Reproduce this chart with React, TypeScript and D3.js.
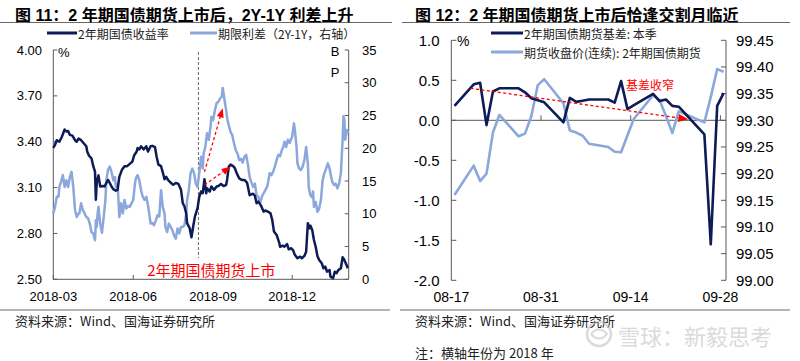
import React from 'react';
import * as d3 from 'd3';

// ---------- Left chart data ----------
const yield2Y: [string, number][] = [
  ['2018-03-01',3.36],['2018-03-03',3.38],['2018-03-05',3.41],['2018-03-08',3.40],['2018-03-11',3.434],['2018-03-14',3.48],
  ['2018-03-16',3.467],['2018-03-18',3.47],['2018-03-20',3.445],['2018-03-23',3.44],['2018-03-26',3.41],['2018-03-28',3.40],
  ['2018-03-30',3.42],['2018-04-02',3.41],['2018-04-05',3.39],['2018-04-08',3.37],['2018-04-09',3.336],['2018-04-11',3.31],
  ['2018-04-14',3.29],['2018-04-16',3.24],['2018-04-18',3.205],['2018-04-19',3.02],['2018-04-20',3.13],['2018-04-22',3.18],
  ['2018-04-24',3.107],['2018-04-27',3.11],['2018-04-29',3.107],['2018-05-01',3.13],['2018-05-03',3.15],['2018-05-05',3.13],
  ['2018-05-07',3.107],['2018-05-09',3.09],['2018-05-12',3.08],['2018-05-14',3.085],['2018-05-16',3.17],['2018-05-19',3.216],
  ['2018-05-22',3.24],['2018-05-25',3.24],['2018-05-28',3.255],['2018-05-31',3.27],['2018-06-02',3.31],['2018-06-05',3.336],
  ['2018-06-06',3.358],['2018-06-08',3.35],['2018-06-10',3.37],['2018-06-13',3.35],['2018-06-16',3.37],['2018-06-18',3.336],
  ['2018-06-21',3.37],['2018-06-23',3.373],['2018-06-26',3.365],['2018-06-28',3.30],['2018-06-30',3.25],['2018-07-03',3.24],
  ['2018-07-05',3.20],['2018-07-07',3.155],['2018-07-09',3.17],['2018-07-11',3.15],['2018-07-14',3.133],['2018-07-17',3.118],
  ['2018-07-20',3.13],['2018-07-23',3.124],['2018-07-26',3.085],['2018-07-28',2.998],['2018-07-30',2.976],['2018-08-01',2.93],
  ['2018-08-02',2.867],['2018-08-05',2.834],['2018-08-07',2.775],['2018-08-09',2.845],['2018-08-11',2.91],['2018-08-14',2.965],
  ['2018-08-16',3.04],['2018-08-18',3.074],['2018-08-20',3.063],['2018-08-22',3.155],['2018-08-24',3.063],['2018-08-25',3.096],
  ['2018-08-28',3.074],['2018-08-30',3.107],['2018-09-02',3.085],['2018-09-05',3.107],['2018-09-07',3.11],['2018-09-10',3.124],
  ['2018-09-13',3.11],['2018-09-16',3.118],['2018-09-17',3.15],['2018-09-19',3.237],['2018-09-21',3.25],['2018-09-24',3.24],
  ['2018-09-26',3.227],['2018-09-28',3.195],['2018-10-01',3.16],['2018-10-04',3.15],['2018-10-07',3.15],['2018-10-10',3.133],
  ['2018-10-13',3.05],['2018-10-15',3.055],['2018-10-17',3.06],['2018-10-19',3.046],['2018-10-21',2.998],['2018-10-23',3.008],
  ['2018-10-26',2.982],['2018-10-29',2.943],['2018-10-31',2.95],['2018-11-03',2.943],['2018-11-06',2.932],['2018-11-08',2.888],
  ['2018-11-10',2.812],['2018-11-13',2.79],['2018-11-16',2.74],['2018-11-17',2.713],['2018-11-20',2.72],['2018-11-22',2.713],
  ['2018-11-25',2.731],['2018-11-27',2.696],['2018-11-30',2.703],['2018-12-02',2.69],['2018-12-04',2.66],['2018-12-07',2.638],
  ['2018-12-10',2.648],['2018-12-12',2.638],['2018-12-15',2.653],['2018-12-17',2.68],['2018-12-19',2.867],['2018-12-21',2.834],
  ['2018-12-22',2.85],['2018-12-24',2.823],['2018-12-26',2.757],['2018-12-28',2.713],['2018-12-30',2.653],['2019-01-01',2.626],
  ['2019-01-04',2.605],['2019-01-06',2.572],['2019-01-08',2.583],['2019-01-10',2.55],['2019-01-13',2.56],['2019-01-14',2.517],
  ['2019-01-17',2.507],['2019-01-19',2.55],['2019-01-21',2.54],['2019-01-23',2.56],['2019-01-26',2.572],['2019-01-28',2.644],
  ['2019-01-30',2.626],['2019-02-01',2.60],['2019-02-03',2.572],
];

const spread2Y1Y: [string, number][] = [
  ['2018-03-01',10.05],['2018-03-03',11.06],['2018-03-05',12.6],['2018-03-07',12.6],['2018-03-08',14.1],['2018-03-10',14.9],
  ['2018-03-12',15.9],['2018-03-14',14.1],['2018-03-16',15.1],['2018-03-18',14.1],['2018-03-20',15.6],['2018-03-22',16.4],
  ['2018-03-24',14.1],['2018-03-26',10.55],['2018-03-28',9.5],['2018-03-30',10.05],['2018-03-31',10.05],['2018-04-02',11.6],
  ['2018-04-04',10.55],['2018-04-06',10.05],['2018-04-08',9.5],['2018-04-10',9.3],['2018-04-12',8.5],['2018-04-14',7.2],
  ['2018-04-16',7.0],['2018-04-18',5.96],['2018-04-19',9.0],['2018-04-20',8.0],['2018-04-21',10.05],['2018-04-22',11.06],
  ['2018-04-24',8.5],['2018-04-26',7.1],['2018-04-28',9.5],['2018-04-30',12.1],['2018-05-01',15.1],['2018-05-03',16.7],
  ['2018-05-05',17.2],['2018-05-07',16.4],['2018-05-09',15.1],['2018-05-11',15.6],['2018-05-12',14.1],['2018-05-14',14.6],
  ['2018-05-16',9.5],['2018-05-18',11.6],['2018-05-20',10.05],['2018-05-22',12.1],['2018-05-24',10.8],['2018-05-26',11.2],
  ['2018-05-28',11.06],['2018-05-30',11.6],['2018-06-01',12.1],['2018-06-03',14.6],['2018-06-04',15.4],['2018-06-06',15.9],
  ['2018-06-08',15.1],['2018-06-10',13.6],['2018-06-12',12.6],['2018-06-14',12.1],['2018-06-16',12.6],['2018-06-18',11.3],
  ['2018-06-20',9.5],['2018-06-21',8.5],['2018-06-23',8.6],['2018-06-25',8.26],['2018-06-27',9.0],['2018-06-29',9.8],
  ['2018-07-01',9.6],['2018-07-03',13.6],['2018-07-05',11.06],['2018-07-07',10.05],['2018-07-08',8.0],['2018-07-10',7.2],
  ['2018-07-12',8.5],['2018-07-14',8.0],['2018-07-16',7.5],['2018-07-18',6.7],['2018-07-20',6.2],['2018-07-22',7.75],
  ['2018-07-24',7.0],['2018-07-26',8.0],['2018-07-28',8.0],['2018-07-30',8.26],['2018-08-01',10.05],['2018-08-02',12.1],
  ['2018-08-04',13.6],['2018-08-06',16.2],['2018-08-08',16.9],['2018-08-10',16.2],['2018-08-12',14.6],['2018-08-14',14.1],
  ['2018-08-16',16.2],['2018-08-18',18.7],['2018-08-20',16.9],['2018-08-21',19.2],['2018-08-23',20.2],['2018-08-25',22.3],
  ['2018-08-27',21.3],['2018-08-29',23.3],['2018-08-30',24.8],['2018-09-01',24.3],['2018-09-03',25.8],['2018-09-05',26.9],
  ['2018-09-07',27.1],['2018-09-09',27.6],['2018-09-11',27.9],['2018-09-12',29.2],['2018-09-14',27.4],['2018-09-16',25.8],
  ['2018-09-17',24.6],['2018-09-19',23.5],['2018-09-21',22.5],['2018-09-23',22.0],['2018-09-25',20.75],['2018-09-27',19.7],
  ['2018-09-29',19.2],['2018-10-01',18.2],['2018-10-03',18.4],['2018-10-05',17.8],['2018-10-07',18.7],['2018-10-09',19.0],
  ['2018-10-11',17.5],['2018-10-13',15.6],['2018-10-15',14.8],['2018-10-17',14.1],['2018-10-19',14.6],['2018-10-21',12.8],
  ['2018-10-23',12.6],['2018-10-25',11.6],['2018-10-27',12.6],['2018-10-29',13.1],['2018-10-31',13.6],['2018-11-02',14.1],
  ['2018-11-03',14.6],['2018-11-05',16.2],['2018-11-07',15.9],['2018-11-09',16.4],['2018-11-11',17.2],['2018-11-13',18.2],
  ['2018-11-15',19.0],['2018-11-17',18.8],['2018-11-19',19.7],['2018-11-21',20.3],['2018-11-22',21.0],['2018-11-24',20.2],
  ['2018-11-26',21.3],['2018-11-28',20.8],['2018-11-30',21.5],['2018-12-01',21.8],['2018-12-03',23.8],['2018-12-04',22.8],
  ['2018-12-06',20.2],['2018-12-07',17.7],['2018-12-09',16.9],['2018-12-11',16.7],['2018-12-13',17.2],['2018-12-15',18.2],
  ['2018-12-17',20.2],['2018-12-19',17.7],['2018-12-20',14.1],['2018-12-22',12.8],['2018-12-24',12.5],['2018-12-25',13.4],
  ['2018-12-26',11.06],['2018-12-28',11.8],['2018-12-30',10.3],['2019-01-01',10.8],['2019-01-03',12.1],['2019-01-05',15.1],
  ['2019-01-07',16.2],['2019-01-09',16.9],['2019-01-11',17.7],['2019-01-13',16.9],['2019-01-14',16.2],['2019-01-16',14.9],
  ['2019-01-18',14.4],['2019-01-20',14.6],['2019-01-22',13.9],['2019-01-24',14.6],['2019-01-26',16.2],['2019-01-28',21.3],
  ['2019-01-29',24.9],['2019-01-30',24.3],['2019-01-31',21.3],['2019-02-02',22.8],['2019-02-03',22.3],
];

const leftYTicks = [2.5, 2.8, 3.1, 3.4, 3.7, 4.0];
const leftY2Ticks = [0, 5, 10, 15, 20, 25, 30, 35];
const leftXTicks = ['2018-03-01', '2018-06-01', '2018-09-01', '2018-12-01'];
const leftXLabels = ['2018-03', '2018-06', '2018-09', '2018-12'];
const listingDate = '2018-08-15';
const spreadArrow: [string, number][] = [['2018-08-22', 16.4], ['2018-09-12', 26.1]];
const yieldArrow: [string, number][] = [['2018-08-22', 3.118], ['2018-09-21', 3.237]];

// ---------- Right chart data ----------
const rightDates = [
  '2018-08-17','2018-08-20','2018-08-21','2018-08-22','2018-08-23','2018-08-24','2018-08-27','2018-08-28','2018-08-29','2018-08-30',
  '2018-08-31','2018-09-03','2018-09-04','2018-09-05','2018-09-06','2018-09-07','2018-09-10','2018-09-11','2018-09-12','2018-09-13',
  '2018-09-14','2018-09-17','2018-09-18','2018-09-19','2018-09-20','2018-09-21','2018-09-25','2018-09-26','2018-09-27','2018-09-28',
];
const basisValues = [
  0.18, 0.45, 0.47, -0.06, 0.36, 0.40, 0.40, 0.35, 0.275, 0.25,
  0.225, -0.025, 0.28, 0.23, 0.245, 0.26, 0.26, 0.22, 0.49, 0.14,
  0.19, 0.33, 0.24, 0.26, 0.18, 0.17, -0.175, -1.55, 0.18, 0.34,
];
const futuresValues = [
  99.16, 99.215, 99.186, 99.20, 99.277, 99.31, 99.27, 99.275, 99.308, 99.366,
  99.377, 99.332, 99.281, 99.277, 99.271, 99.256, 99.25, 99.241, 99.24, 99.272,
  99.303, 99.347, 99.338, 99.308, 99.276, 99.317, 99.296, 99.344, 99.396, 99.391,
];
const rightYTicks = [1.0, 0.5, 0.0, -0.5, -1.0, -1.5, -2.0];
const rightY2Ticks = [99.45, 99.4, 99.35, 99.3, 99.25, 99.2, 99.15, 99.1, 99.05, 99.0];
const rightXTicks = ['2018-08-17', '2018-08-31', '2018-09-14', '2018-09-28'];
const rightXLabels = ['08-17', '08-31', '09-14', '09-28'];
const basisArrow: [string, number][] = [['2018-08-20', 0.40], ['2018-09-23', 0.012]];
const basisNote: [string, number] = ['2018-09-17', 0.45];

// ---------- styles ----------
const NAVY = '#0d1b56';
const LIGHT = '#8ba7dc';
const AXIS = '#595959';
const RED = '#ff0000';
const LATIN = "'Liberation Sans', Arial, 'Noto Sans CJK SC', sans-serif";
const CJK = "'Noto Sans CJK SC', 'Liberation Sans', sans-serif";

const parse = d3.timeParse('%Y-%m-%d') as (s: string) => Date;

function arrowHead(x1: number, y1: number, x2: number, y2: number, len = 9, w = 7) {
  const a = Math.atan2(y2 - y1, x2 - x1);
  const bx = x2 - len * Math.cos(a);
  const by = y2 - len * Math.sin(a);
  const px = (-Math.sin(a) * w) / 2;
  const py = (Math.cos(a) * w) / 2;
  return { base: [bx, by], d: `M${x2},${y2}L${bx + px},${by + py}L${bx - px},${by - py}Z` };
}

function Arrow({ x1, y1, x2, y2, len = 9, w = 7 }: { x1: number; y1: number; x2: number; y2: number; len?: number; w?: number }) {
  const h = arrowHead(x1, y1, x2, y2, len, w);
  return (
    <g>
      <line x1={x1} y1={y1} x2={h.base[0]} y2={h.base[1]} stroke={RED} strokeWidth={1.3} strokeDasharray="3,2.5" />
      <path d={h.d} fill={RED} />
    </g>
  );
}

function LeftChart() {
  const x = d3.scaleTime().domain([parse('2018-03-01'), parse('2019-02-04')]).range([53.3, 348.7]);
  const y = d3.scaleLinear().domain([2.5, 4.0]).range([279.3, 50]);
  const y2 = d3.scaleLinear().domain([0, 35]).range([279.3, 50]);
  const lineY = d3.line<[string, number]>().x((d) => x(parse(d[0]))).y((d) => y(d[1]));
  const lineS = d3.line<[string, number]>().x((d) => x(parse(d[0]))).y((d) => y2(d[1]));
  const [x0, x1] = x.range();
  const lx = x(parse(listingDate));
  const sa = spreadArrow.map((d) => [x(parse(d[0])), y2(d[1])]);
  const ya = yieldArrow.map((d) => [x(parse(d[0])), y(d[1])]);
  return (
    <g>
      <text x={15} y={15} fontFamily={LATIN} fontWeight="bold" fontSize={16} dominantBaseline="central" fill="#000">
        图 11：2 年期国债期货上市后，2Y-1Y 利差上升
      </text>
      <line x1={0} x2={392} y1={22.5} y2={22.5} stroke="#444" strokeWidth={0.8} />
      {/* legend */}
      <line x1={47} x2={77} y1={33} y2={33} stroke={NAVY} strokeWidth={3} />
      <text x={78} y={33} fontFamily={CJK} fontSize={12} dominantBaseline="central" fill="#222">2年期国债收益率</text>
      <line x1={190} x2={217} y1={33} y2={33} stroke={LIGHT} strokeWidth={3} />
      <text x={218} y={33} fontFamily={CJK} fontSize={12} dominantBaseline="central" fill="#222">期限利差（2Y-1Y，右轴）</text>

      {/* axes */}
      <line x1={x0} x2={x0} y1={50} y2={279.3} stroke={AXIS} strokeWidth={1} />
      <line x1={x1} x2={x1} y1={50} y2={279.3} stroke={AXIS} strokeWidth={1} />
      <line x1={x0} x2={x1} y1={279.3} y2={279.3} stroke={AXIS} strokeWidth={1} />
      {leftYTicks.map((t) => (
        <g key={'ly' + t}>
          <line x1={x0} x2={x0 + 4} y1={y(t)} y2={y(t)} stroke={AXIS} />
          <text x={42} y={y(t)} textAnchor="end" dominantBaseline="central" fontFamily={LATIN} fontSize={13} fill="#000">
            {t.toFixed(2)}
          </text>
        </g>
      ))}
      {leftY2Ticks.map((t) => (
        <g key={'ly2' + t}>
          <line x1={x1 - 4} x2={x1} y1={y2(t)} y2={y2(t)} stroke={AXIS} />
          <text x={362} y={y2(t)} dominantBaseline="central" fontFamily={LATIN} fontSize={13} fill="#000">
            {t}
          </text>
        </g>
      ))}
      {leftXTicks.map((t, i) => (
        <g key={'lx' + t}>
          <line x1={x(parse(t))} x2={x(parse(t))} y1={279.3} y2={275} stroke={AXIS} />
          <text x={x(parse(t))} y={296} textAnchor="middle" dominantBaseline="central" fontFamily={LATIN} fontSize={13} fill="#000">
            {leftXLabels[i]}
          </text>
        </g>
      ))}
      <text x={58} y={52} dominantBaseline="central" fontFamily={LATIN} fontSize={13} fill="#000">%</text>
      <text x={335} y={51} textAnchor="middle" dominantBaseline="central" fontFamily={LATIN} fontSize={13} fill="#000">B</text>
      <text x={335} y={72} textAnchor="middle" dominantBaseline="central" fontFamily={LATIN} fontSize={13} fill="#000">P</text>

      {/* listing line */}
      <line x1={lx} x2={lx} y1={52} y2={258} stroke="#666" strokeWidth={1} strokeDasharray="3,2" />

      {/* series */}
      <path d={lineS(spread2Y1Y) || ''} fill="none" stroke={LIGHT} strokeWidth={2.5} strokeLinejoin="round" />
      <path d={lineY(yield2Y) || ''} fill="none" stroke={NAVY} strokeWidth={2.5} strokeLinejoin="round" />

      <Arrow x1={sa[0][0]} y1={sa[0][1]} x2={sa[1][0]} y2={sa[1][1]} />
      <Arrow x1={ya[0][0]} y1={ya[0][1]} x2={ya[1][0]} y2={ya[1][1]} />

      <text x={x(parse('2018-08-30'))} y={y(2.5) - 10} textAnchor="middle" dominantBaseline="central" fontFamily={CJK} fontSize={15} fill={RED}>
        2年期国债期货上市
      </text>

      <line x1={0} x2={390} y1={310} y2={310} stroke="#444" strokeWidth={0.8} />
      <text x={15} y={320} dominantBaseline="central" fontFamily={CJK} fontSize={13} fill="#222">资料来源：Wind、国海证券研究所</text>
    </g>
  );
}

function RightChart() {
  const x = d3.scaleTime().domain([parse('2018-08-17'), d3.timeHour.offset(parse('2018-09-28'), 21)]).range([451.3, 726]);
  const y = d3.scaleLinear().domain([-2, 1]).range([280.3, 40.3]);
  const y2 = d3.scaleLinear().domain([99.0, 99.45]).range([280.3, 40.3]);
  const xd = (s: string) => x(d3.timeHour.offset(parse(s), 12));
  const lineB = d3.line<number>().x((_, i) => xd(rightDates[i])).y((d) => y(d));
  const lineF = d3.line<number>().x((_, i) => xd(rightDates[i])).y((d) => y2(d));
  const [x0, x1] = x.range();
  const ba = basisArrow.map((d) => [x(parse(d[0])), y(d[1])]);
  return (
    <g>
      <text x={415} y={15} fontFamily={LATIN} fontWeight="bold" fontSize={16} dominantBaseline="central" fill="#000">
        图 12：2 年期国债期货上市后恰逢交割月临近
      </text>
      <line x1={402} x2={790} y1={22.5} y2={22.5} stroke="#444" strokeWidth={0.8} />

      {/* axes */}
      <line x1={x0} x2={x0} y1={40.3} y2={280.3} stroke={AXIS} />
      <line x1={x1} x2={x1} y1={40.3} y2={280.3} stroke={AXIS} />
      <line x1={x0} x2={x1} y1={y(0)} y2={y(0)} stroke={AXIS} />
      {rightYTicks.map((t) => (
        <g key={'ry' + t}>
          <line x1={x0} x2={x0 + 5} y1={y(t)} y2={y(t)} stroke={AXIS} />
          <text x={439.5} y={y(t)} textAnchor="end" dominantBaseline="central" fontFamily={LATIN} fontSize={15} fill="#000">
            {t.toFixed(1)}
          </text>
        </g>
      ))}
      {rightY2Ticks.map((t) => (
        <g key={'ry2' + t}>
          <line x1={x1 - 5} x2={x1} y1={y2(t)} y2={y2(t)} stroke={AXIS} />
          <text x={736} y={y2(t)} dominantBaseline="central" fontFamily={LATIN} fontSize={15} fill="#000">
            {t.toFixed(2)}
          </text>
        </g>
      ))}
      {rightXTicks.map((t, i) => (
        <g key={'rx' + t}>
          {i > 0 && <line x1={x(parse(t))} x2={x(parse(t))} y1={y(0)} y2={y(0) - 5} stroke={AXIS} />}
          <text x={x(parse(t))} y={297} textAnchor="middle" dominantBaseline="central" fontFamily={LATIN} fontSize={14} fill="#000">
            {rightXLabels[i]}
          </text>
        </g>
      ))}
      <text x={457} y={41} dominantBaseline="central" fontFamily={LATIN} fontSize={14} fill="#000">%</text>

      {/* legend */}
      <line x1={491} x2={523} y1={33} y2={33} stroke={NAVY} strokeWidth={3} />
      <text x={524} y={33} fontFamily={CJK} fontSize={12} dominantBaseline="central" fill="#222">2年期国债期货基差: 本季</text>
      <line x1={491} x2={523} y1={52} y2={52} stroke={LIGHT} strokeWidth={3} />
      <text x={524} y={52} fontFamily={CJK} fontSize={12} dominantBaseline="central" fill="#222">期货收盘价(连续): 2年期国债期货</text>

      {/* series */}
      <path d={lineF(futuresValues) || ''} fill="none" stroke={LIGHT} strokeWidth={2.6} strokeLinejoin="round" />
      <path d={lineB(basisValues) || ''} fill="none" stroke={NAVY} strokeWidth={2.6} strokeLinejoin="round" />

      <Arrow x1={ba[0][0]} y1={ba[0][1]} x2={ba[1][0]} y2={ba[1][1]} len={10} w={8} />
      <text x={x(parse(basisNote[0]))} y={y(basisNote[1])} textAnchor="middle" dominantBaseline="central" fontFamily={CJK} fontSize={12} fill={RED}>
        基差收窄
      </text>

      <line x1={400} x2={790} y1={310} y2={310} stroke="#444" strokeWidth={0.8} />
      <text x={415} y={320} dominantBaseline="central" fontFamily={CJK} fontSize={13} fill="#222">资料来源：Wind、国海证券研究所</text>
      <text x={415} y={352} dominantBaseline="central" fontFamily={CJK} fontSize={13} fill="#222">注：横轴年份为 2018 年</text>

      {/* watermark */}
      <g opacity={0.55}>
        <circle cx={599} cy={334} r={12} fill="none" stroke="#bdbdbd" strokeWidth={2.5} />
        <path d="M591,334 q8,-9 16,0 q-8,9 -16,0" fill="none" stroke="#bdbdbd" strokeWidth={2} />
        <text x={618} y={335} dominantBaseline="central" fontFamily={CJK} fontSize={22} fill="#bdbdbd">雪球：新毅思考</text>
      </g>
    </g>
  );
}

export default function App() {
  return (
    <svg width={800} height={361} viewBox="0 0 800 361" style={{ position: 'absolute', left: 0, top: 0, background: '#fff' }}>
      <rect x={0} y={0} width={800} height={361} fill="#fff" />
      <LeftChart />
      <RightChart />
    </svg>
  );
}
